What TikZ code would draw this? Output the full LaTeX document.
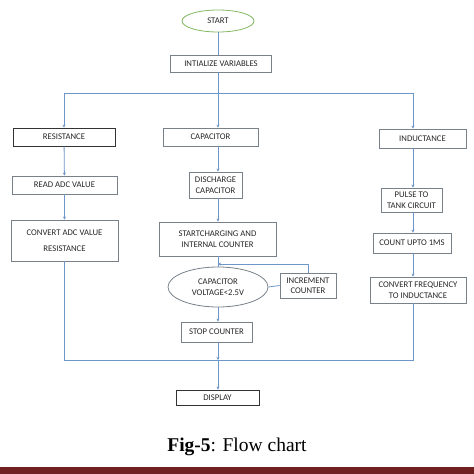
\documentclass[tikz,border=0pt]{standalone}
\usepackage{fontspec}
\usepackage{xcolor}
\usetikzlibrary{shapes,arrows.meta,positioning,calc}
\newfontfamily\boxfont{Carlito}
\newfontfamily\capfont{Liberation Serif}
\definecolor{flowline}{RGB}{110,150,200}
\definecolor{boxline}{RGB}{120,128,138}
\definecolor{startline}{RGB}{130,185,100}
\definecolor{barred}{RGB}{112,32,32}

\begin{document}
\begin{tikzpicture}[x=1pt, y=-1pt,
    box/.style={draw=boxline, line width=0.9pt, rectangle, inner sep=1pt, align=center,
        font=\boxfont\fontsize{8.7}{10.5}\selectfont, text=black!85},
    darkbox/.style={box, draw=black!80},
    flow/.style={draw=flowline, line width=0.8pt},
    >={Stealth[length=3pt, width=3pt]}]
    \useasboundingbox (0,0) rectangle (474,474);

    \node (start) [ellipse, draw=startline, line width=0.8pt, minimum width=72pt, minimum height=22pt,
        font=\boxfont\fontsize{8.7}{10.5}\selectfont, text=black!85] at (218,21) {START};
    \node (init) [box, minimum width=101pt, minimum height=17pt] at (221,63.5) {INTIALIZE VARIABLES};

    % resistance branch
    \node (res) [darkbox, minimum width=102pt, minimum height=18pt] at (64,137) {RESISTANCE};
    \node (readadc) [box, minimum width=105pt, minimum height=18pt] at (64.5,185) {READ ADC VALUE};
    \node (convadc) [box, minimum width=107pt, minimum height=41pt] at (64.5,240.5) {CONVERT ADC VALUE\\[6pt]RESISTANCE};

    % capacitor branch
    \node (cap) [box, minimum width=95pt, minimum height=18pt] at (210.5,137) {CAPACITOR};
    \node (disch) [box, minimum width=53pt, minimum height=26pt] at (215.5,185) {DISCHARGE\\CAPACITOR};
    \node (startch) [box, minimum width=117pt, minimum height=34pt] at (217.5,239) {STARTCHARGING AND\\INTERNAL COUNTER};
    \node (volt) [ellipse, draw=boxline, line width=0.8pt, minimum width=100pt, minimum height=40pt, inner sep=0pt,
        align=center, font=\boxfont\fontsize{8.7}{10.5}\selectfont, text=black!85] at (218,287) {CAPACITOR\\VOLTAGE<2.5V};
    \node (incr) [box, minimum width=56pt, minimum height=25pt] at (308,285.5) {INCREMENT\\COUNTER};
    \node (stop) [box, minimum width=71pt, minimum height=20pt] at (216.5,332) {STOP COUNTER};
    \node (display) [darkbox, minimum width=83pt, minimum height=15pt] at (217.5,397.5) {DISPLAY};

    % inductance branch
    \node (ind) [box, minimum width=87pt, minimum height=19pt] at (422.5,138.5) {INDUCTANCE};
    \node (pulse) [box, minimum width=61pt, minimum height=24pt] at (411.5,200) {PULSE TO\\TANK CIRCUIT};
    \node (count) [box, minimum width=78pt, minimum height=20pt] at (412,243) {COUNT UPTO 1MS};
    \node (convf) [box, minimum width=96pt, minimum height=26pt] at (418,290) {CONVERT FREQUENCY\\TO INDUCTANCE};

    \coordinate (split) at (218,93);
    \coordinate (splitL) at (64,93);
    \coordinate (splitR) at (413,93);
    \coordinate (mergeL) at (64,360);
    \coordinate (mergeR) at (413,360);
    \coordinate (merge) at (218,360);
    \coordinate (loop) at (218,264);

    \draw [flow] (start.south) -- (start.south |- init.north);
    \draw [flow] (init.south -| split) -- (split);
    \draw [flow] (splitL) -- (splitR);
    \draw [flow, ->] (splitL) -- (res.north);
    \draw [flow, ->] (split) -- (split |- cap.north);
    \draw [flow, ->] (splitR) -- (splitR |- ind.north);

    \draw [flow, ->] (res) -- (readadc);
    \draw [flow, ->] (readadc) -- (convadc);
    \draw [flow] (convadc.south -| mergeL) -- (mergeL) -- (mergeR) -- (mergeR |- convf.south);

    \draw [flow, ->] (cap.south -| split) -- (split |- disch.north);
    \draw [flow, ->] (disch.south -| split) -- (split |- startch.north);
    \draw [flow] (startch.south -| split) -- (volt.north);
    \draw [flow] (volt.east) -- (incr.west);
    \draw [flow, ->] (incr.north) |- (loop);
    \draw [flow, ->] (volt.south) -- (volt.south |- stop.north);
    \draw [flow, ->] (stop.south -| merge) -- (merge);
    \draw [flow, ->] (merge) -- (merge |- display.north);

    \draw [flow, ->] (ind.south -| splitR) -- (splitR |- pulse.north);
    \draw [flow, ->] (pulse.south -| splitR) -- (splitR |- count.north);
    \draw [flow, ->] (count.south -| splitR) -- (splitR |- convf.north);

    \node (caption) [font=\capfont\fontsize{19.5}{22}\selectfont] at (237,447) {\textbf{Fig-5}: Flow chart};
    \fill [barred] (0,467) rectangle (474,474);
\end{tikzpicture}
\end{document}
